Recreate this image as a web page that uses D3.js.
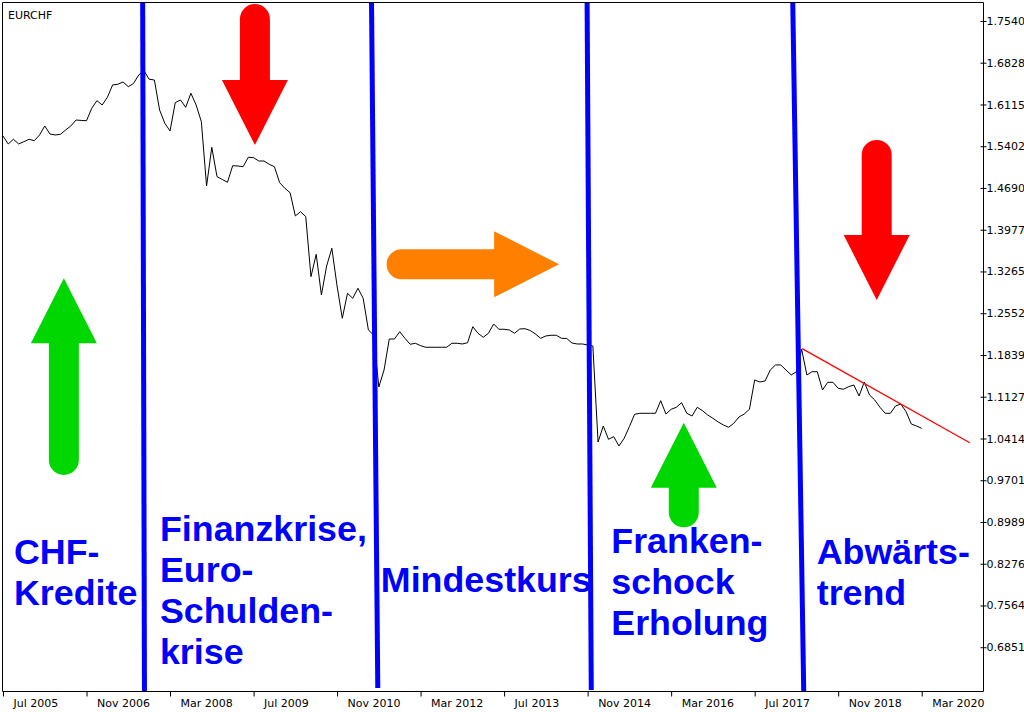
<!DOCTYPE html>
<html><head><meta charset="utf-8">
<script src="https://cdn.jsdelivr.net/npm/d3@7"></script>
<style>html,body{margin:0;padding:0;background:#fff;} svg{display:block;}</style>
</head><body>
<svg id="chart" width="1024" height="712"></svg>
<script>
// ---------- data ----------
const symbol = "EURCHF";
// monthly closes, first value = Jul 2005
const closes = [
1.5577,1.5441,1.5521,1.5441,1.5480,1.5521,1.5497,1.5594,1.5748,1.5611,
1.5594,1.5606,1.5680,1.5748,1.5850,1.5842,1.5838,1.6050,1.6180,1.6106,
1.6238,1.6448,1.6460,1.6499,1.6419,1.6473,1.6618,1.6692,1.6545,1.6533,
1.6021,1.5794,1.5663,1.6146,1.6192,1.6067,1.6306,1.6106,1.5821,1.4724,
1.5384,1.4883,1.4835,1.4787,1.5070,1.5065,1.5053,1.5214,1.5207,1.5150,
1.5150,1.5094,1.5053,1.4780,1.4685,1.4609,1.4212,1.4285,1.4200,1.3176,
1.3558,1.2863,1.3358,1.3660,1.3017,1.2466,1.2892,1.2807,1.2978,1.2807,
1.2266,1.2181,1.1293,1.1583,1.2112,1.2112,1.2237,1.2124,1.2022,1.2039,
1.1998,1.1971,1.1971,1.1971,1.1971,1.1971,1.2039,1.2039,1.2027,1.2049,
1.2322,1.2210,1.2141,1.2210,1.2368,1.2278,1.2278,1.2266,1.2210,1.2283,
1.2288,1.2257,1.2198,1.2124,1.2164,1.2176,1.2176,1.2124,1.2121,1.2044,
1.2027,1.2027,1.2010,1.1993,1.0354,1.0627,1.0400,1.0445,1.0286,1.0417,
1.0616,1.0827,1.0844,1.0844,1.0844,1.0844,1.1059,1.0832,1.0912,1.0947,
1.1025,1.0844,1.0798,1.0947,1.0889,1.0815,1.0759,1.0696,1.0645,1.0605,
1.0674,1.0781,1.0832,1.0912,1.1413,1.1378,1.1396,1.1583,1.1669,1.1669,
1.1583,1.1498,1.1554,1.1937,1.1498,1.1554,1.1554,1.1242,1.1373,1.1373,
1.1271,1.1254,1.1298,1.1327,1.1139,1.1378,1.1157,1.1071,1.0947,1.0844,
1.0844,1.0969,1.1003,1.0872,1.0662,1.0627,1.0588
];
const xTickLabels = ["Jul 2005","Nov 2006","Mar 2008","Jul 2009","Nov 2010","Mar 2012",
                     "Jul 2013","Nov 2014","Mar 2016","Jul 2017","Nov 2018","Mar 2020"];
const xTickMonths = [0,16,32,48,64,80,96,112,128,144,160,176];
const yTickLabels = ["1.7540","1.6828","1.6115","1.5402","1.4690","1.3977","1.3265","1.2552",
                     "1.1839","1.1127","1.0414","0.9701","0.8989","0.8276","0.7564","0.6851"];
// red trend line (month index, value)
const trendMonths = [153.1, 185.2];
const trendValues = [1.1947, 1.0342];
// blue phase separators (month index at top / bottom, value at bottom)
const phaseTopMonth = [26.76, 70.6, 111.9, 151.3];
const phaseBottomMonth = [27.1, 71.8, 112.7, 153.4];
const phaseBottomValue = [0.6087, 0.6156, 0.6122, 0.6087];
// phase labels
const phaseLabels = [["CHF-","Kredite"],["Finanzkrise,","Euro-","Schulden-","krise"],["Mindestkurs"],
                     ["Franken-","schock","Erholung"],["Abwärts-","trend"]];
const phaseLabelMonth = [2.11, 30.07, 72.39, 116.54, 155.89];
const phaseLabelValue = [0.8272, 0.8665, 0.7794, 0.8460, 0.8272];
// arrows
const arrowColors = ["#00d700","#ff0000","#ff8000","#00d700","#ff0000"];
const arrowTailMonth = [11.66, 48.26, 73.48, 130.42, 167.38];
const arrowTailValue = [0.9791, 1.7830, 1.3387, 0.8898, 1.5509];
const arrowTipMonth  = [11.66, 48.26, 106.54, 130.42, 167.38];
const arrowTipValue  = [1.3148, 1.5424, 1.3387, 1.0684, 1.2778];

// ---------- layout ----------
const svg = d3.select("#chart");
const fLeft = 2.5, fTop = 2.5, fRight = 983.5, fBottom = 691.5;
const x = d3.scaleLinear().domain([0, 176]).range([3, 921.7]);
const y = d3.scaleLinear().domain([0.6087, 1.7864]).range([692, 2]);
const axisFont = "'DejaVu Sans', Verdana, sans-serif";

svg.append("rect").attr("width",1024).attr("height",712).attr("fill","#fff");

// line
const line = d3.line().x((d,i)=>x(i)).y(d=>y(d));
svg.append("path").datum(closes).attr("d", line)
  .attr("fill","none").attr("stroke","#000").attr("stroke-width",1);

// trend line
svg.append("line")
  .attr("x1", x(trendMonths[0])).attr("y1", y(trendValues[0]))
  .attr("x2", x(trendMonths[1])).attr("y2", y(trendValues[1]))
  .attr("stroke","#ff0000").attr("stroke-width",1.3);

// blue separators
svg.selectAll(".sep").data(phaseTopMonth).enter().append("line")
  .attr("x1", d=>x(d)).attr("y1", fTop)
  .attr("x2", (d,i)=>x(phaseBottomMonth[i])).attr("y2", (d,i)=>y(phaseBottomValue[i]))
  .attr("stroke","#0000ff").attr("stroke-width",5);

// arrows
function arrowPath(L){
  const sw = 30, hw = 66, hl = 65, r = sw/2;
  return `M${L-hl},${-sw/2} L${L-hl},${-hw/2} L${L},0 L${L-hl},${hw/2} L${L-hl},${sw/2} L${r},${sw/2} A${r},${r} 0 0 1 ${r},${-sw/2} Z`;
}
arrowColors.forEach((c,i)=>{
  const x0 = x(arrowTailMonth[i]), y0 = y(arrowTailValue[i]);
  const x1 = x(arrowTipMonth[i]), y1 = y(arrowTipValue[i]);
  const L = Math.hypot(x1-x0, y1-y0);
  const ang = Math.atan2(y1-y0, x1-x0)*180/Math.PI;
  svg.append("path").attr("d", arrowPath(L))
    .attr("transform", `translate(${x0},${y0}) rotate(${ang})`)
    .attr("fill", c);
});

// phase labels
phaseLabels.forEach((lines,i)=>{
  const t = svg.append("text")
    .attr("x", x(phaseLabelMonth[i])).attr("y", y(phaseLabelValue[i]))
    .attr("font-family","'Liberation Sans', Arial, sans-serif")
    .attr("font-weight","bold").attr("font-size",35.8).attr("fill","#0000ff");
  lines.forEach((s,j)=>{
    t.append("tspan").attr("x", x(phaseLabelMonth[i])).attr("dy", j===0?0:41).text(s);
  });
});

// frame
svg.append("path").attr("d", `M${fLeft},${fBottom} L${fLeft},${fTop} L${fRight},${fTop} L${fRight},${fBottom} Z`)
  .attr("fill","none").attr("stroke","#000").attr("stroke-width",1);

// y axis (right)
const yAxis = d3.axisRight(y).tickValues(yTickLabels.map(Number))
  .tickFormat((d,i)=>yTickLabels[i]).tickSize(3).tickPadding(0);
const gy = svg.append("g").attr("transform",`translate(${fRight},0)`).call(yAxis);
gy.select(".domain").remove();
gy.selectAll(".tick line").attr("x1",-3).attr("x2",3).attr("stroke","#000");
gy.selectAll(".tick text").attr("x",3).attr("font-family",axisFont).attr("font-size",11).attr("fill","#000");

// x axis (bottom)
const xAxis = d3.axisBottom(x).tickValues(xTickMonths)
  .tickFormat((d,i)=>xTickLabels[i]).tickSize(5).tickPadding(0);
const gx = svg.append("g").attr("transform",`translate(0,${fBottom})`).call(xAxis);
gx.select(".domain").remove();
gx.selectAll(".tick line").attr("stroke","#000");
gx.selectAll(".tick text").attr("text-anchor","start").attr("x",10).attr("y",15.5).attr("dy",0)
  .attr("font-family",axisFont).attr("font-size",11).attr("fill","#000");

// symbol label
svg.append("text").attr("x",8).attr("y",19).text(symbol)
  .attr("font-family",axisFont).attr("font-size",11).attr("fill","#000");
</script>
</body></html>
